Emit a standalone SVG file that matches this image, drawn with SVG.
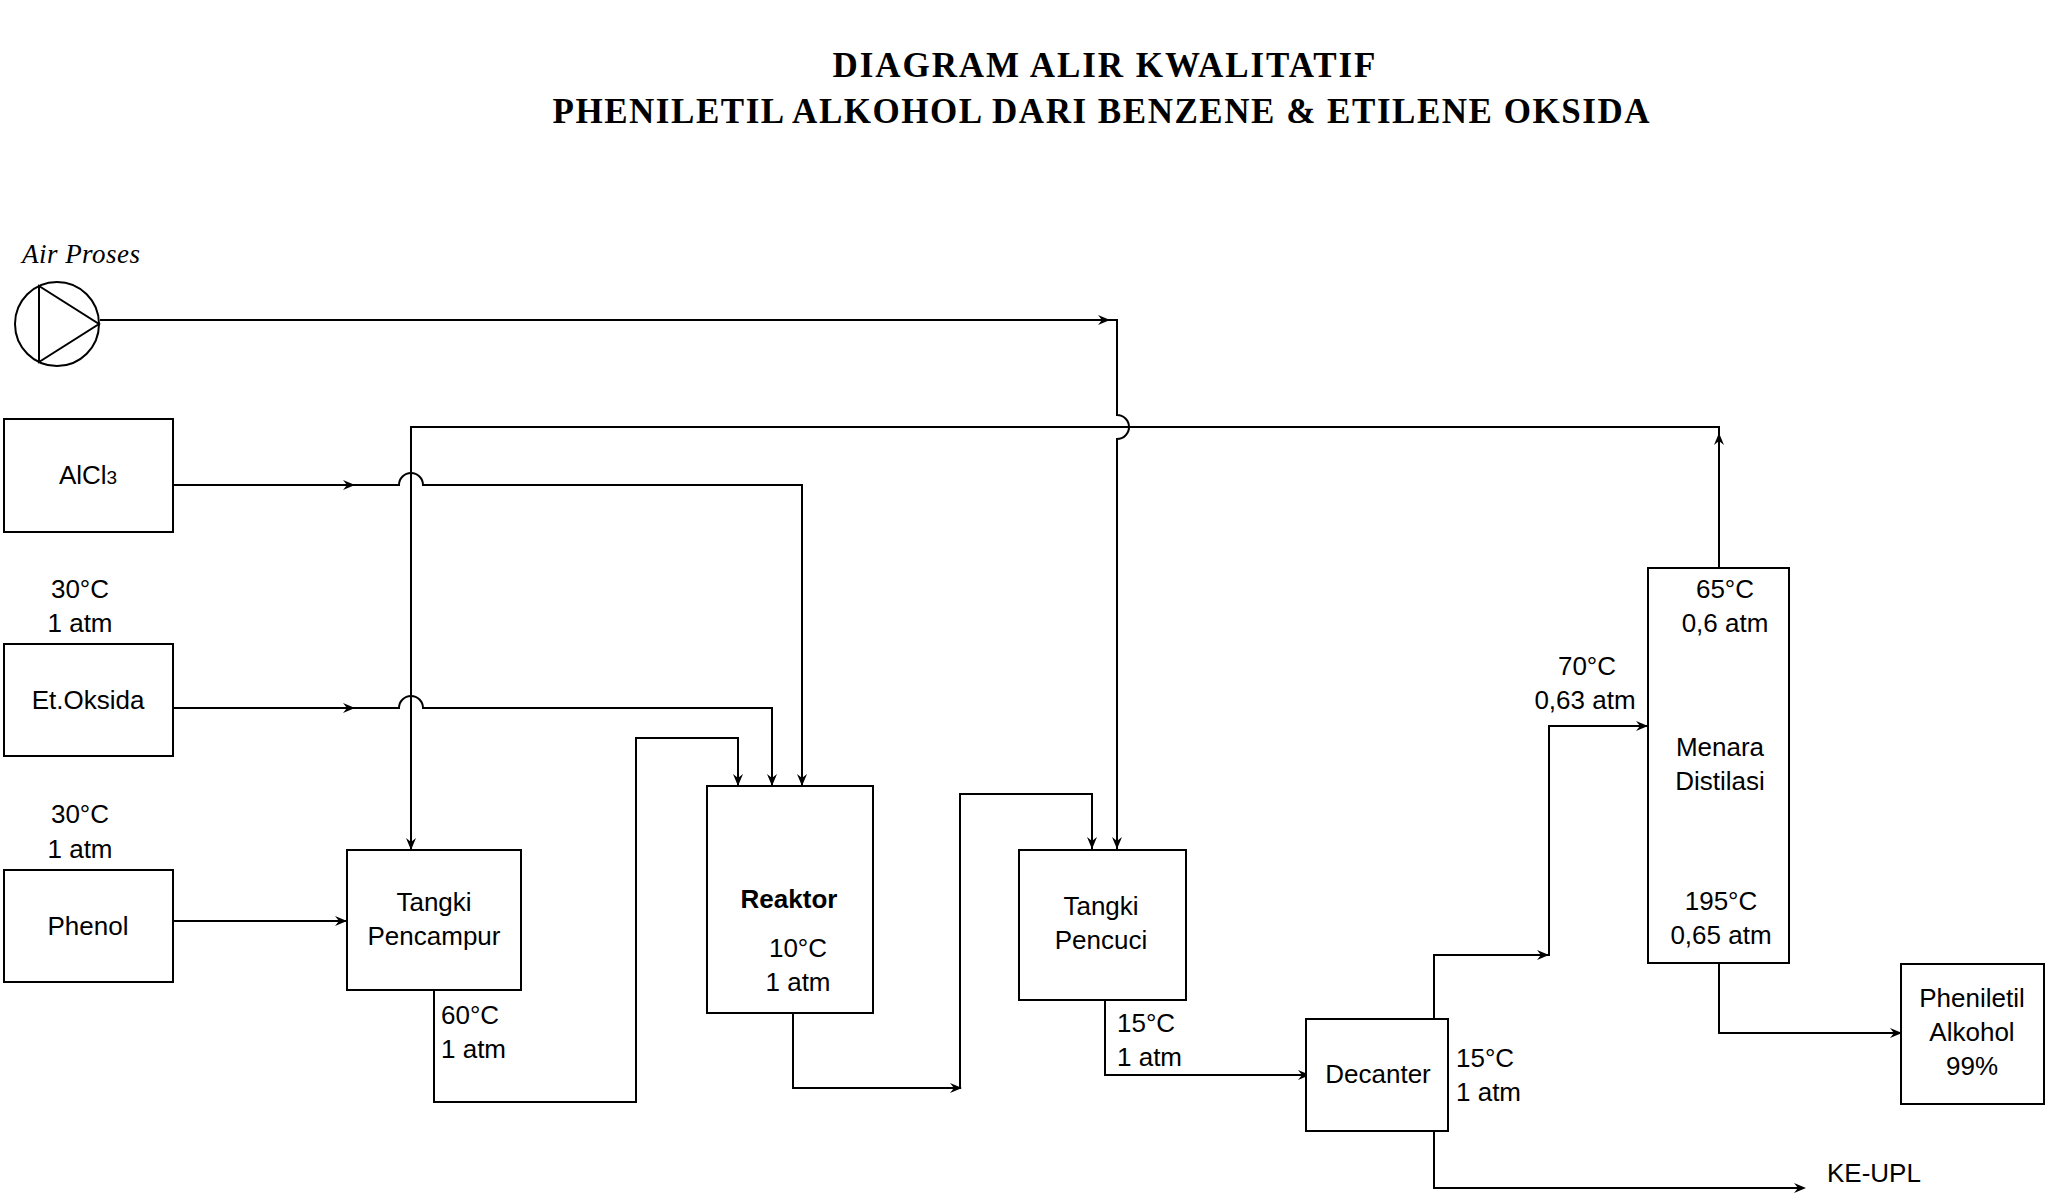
<svg xmlns="http://www.w3.org/2000/svg" width="2048" height="1201" viewBox="0 0 2048 1201">
<style>
.b{fill:#fff;stroke:#000;stroke-width:2}
.t{font-family:"Liberation Sans",Arial,sans-serif;font-size:26px;fill:#000}
.m{text-anchor:middle}
.ttl{font-family:"Liberation Serif","Times New Roman",serif;font-weight:bold;font-size:35px;text-anchor:middle}
#conn path{fill:none;stroke:#000;stroke-width:2}
</style>
<defs>
<path id="ah" d="M0,0 L-12,-5 L-8,0 L-12,5Z" fill="#000"/>
</defs>
<rect width="2048" height="1201" fill="#fff"/>
<text class="ttl" x="1104" y="77" textLength="543" lengthAdjust="spacing">DIAGRAM ALIR KWALITATIF</text>
<text class="ttl" x="1101" y="123" textLength="1097" lengthAdjust="spacing">PHENILETIL ALKOHOL DARI BENZENE &amp; ETILENE OKSIDA</text>

<g id="conn">
<path d="M100,320 H1117 V415 A12,12 0 0 1 1117,439 V849"/>
<path d="M1719,568 V427 H411 V850"/>
<path d="M173,485 H399 A12,12 0 0 1 423,485 H802 V786"/>
<path d="M173,708 H399 A12,12 0 0 1 423,708 H772 V786"/>
<path d="M173,921 H347"/>
<path d="M434,990 V1102 H636 V738 H738 V786"/>
<path d="M793,1013 V1088 H960 V794 H1092 V849"/>
<path d="M1105,1000 V1075 H1306"/>
<path d="M1434,1019 V955 H1549 V726 H1648"/>
<path d="M1434,1131 V1188 H1802"/>
<path d="M1719,963 V1033 H1900"/>
<use href="#ah" transform="translate(1110,320)"/>
<use href="#ah" transform="translate(1117,849) rotate(90)"/>
<use href="#ah" transform="translate(1719,433) rotate(-90)"/>
<use href="#ah" transform="translate(411,850) rotate(90)"/>
<use href="#ah" transform="translate(355,485)"/>
<use href="#ah" transform="translate(802,786) rotate(90)"/>
<use href="#ah" transform="translate(355,708)"/>
<use href="#ah" transform="translate(772,786) rotate(90)"/>
<use href="#ah" transform="translate(347,921)"/>
<use href="#ah" transform="translate(738,786) rotate(90)"/>
<use href="#ah" transform="translate(962,1088)"/>
<use href="#ah" transform="translate(1092,849) rotate(90)"/>
<use href="#ah" transform="translate(1310,1075)"/>
<use href="#ah" transform="translate(1549,955)"/>
<use href="#ah" transform="translate(1648,726)"/>
<use href="#ah" transform="translate(1806,1188)"/>
<use href="#ah" transform="translate(1902,1033)"/>
</g>

<g id="pump">
<text x="22" y="263" font-family="Liberation Serif,serif" font-style="italic" font-size="27" textLength="118" lengthAdjust="spacing">Air Proses</text>
<circle cx="57" cy="324" r="42" class="b"/>
<path d="M39,286 V362 L99,324 Z" fill="none" stroke="#000" stroke-width="2"/>
</g>
<g id="alcl3"><rect class="b" x="4" y="419" width="169" height="113"/><text class="t m" x="88" y="484">AlCl<tspan font-size="19">3</tspan></text></g>
<g id="etoksida"><text class="t m" x="80" y="598">30°C</text><text class="t m" x="80" y="632">1 atm</text>
<rect class="b" x="4" y="644" width="169" height="112"/><text class="t m" x="88" y="709">Et.Oksida</text></g>
<g id="phenol"><text class="t m" x="80" y="823">30°C</text><text class="t m" x="80" y="858">1 atm</text>
<rect class="b" x="4" y="870" width="169" height="112"/><text class="t m" x="88" y="935">Phenol</text></g>
<g id="pencampur"><rect class="b" x="347" y="850" width="174" height="140"/><text class="t m" x="434" y="911">Tangki</text><text class="t m" x="434" y="945">Pencampur</text>
<text class="t" x="441" y="1024">60°C</text><text class="t" x="441" y="1058">1 atm</text></g>
<g id="reaktor"><rect class="b" x="707" y="786" width="166" height="227"/><text class="t m" x="789" y="908" font-weight="bold">Reaktor</text>
<text class="t m" x="798" y="957">10°C</text><text class="t m" x="798" y="991">1 atm</text></g>
<g id="pencuci"><rect class="b" x="1019" y="850" width="167" height="150"/><text class="t m" x="1101" y="915">Tangki</text><text class="t m" x="1101" y="949">Pencuci</text>
<text class="t" x="1117" y="1032">15°C</text><text class="t" x="1117" y="1066">1 atm</text></g>
<g id="decanter"><rect class="b" x="1306" y="1019" width="142" height="112"/><text class="t m" x="1378" y="1083">Decanter</text>
<text class="t" x="1456" y="1067">15°C</text><text class="t" x="1456" y="1101">1 atm</text></g>
<g id="menara"><rect class="b" x="1648" y="568" width="141" height="395"/>
<text class="t m" x="1725" y="598">65°C</text><text class="t m" x="1725" y="632">0,6 atm</text>
<text class="t m" x="1720" y="756">Menara</text><text class="t m" x="1720" y="790">Distilasi</text>
<text class="t m" x="1721" y="910">195°C</text><text class="t m" x="1721" y="944">0,65 atm</text>
<text class="t m" x="1587" y="675">70°C</text><text class="t m" x="1585" y="709">0,63 atm</text></g>
<g id="produk"><rect class="b" x="1901" y="964" width="143" height="140"/>
<text class="t m" x="1972" y="1007">Pheniletil</text><text class="t m" x="1972" y="1041">Alkohol</text><text class="t m" x="1972" y="1075">99%</text></g>
<g id="keupl"><text class="t" x="1827" y="1182">KE-UPL</text></g>
</svg>
